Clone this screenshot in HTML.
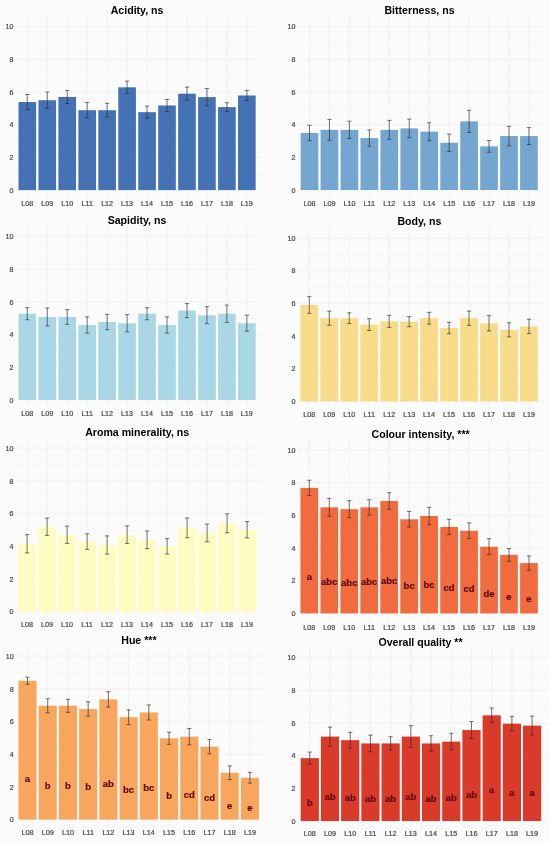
<!DOCTYPE html>
<html><head><meta charset="utf-8"><style>
html,body{margin:0;padding:0;background:#fbfbfb;width:550px;height:842px;overflow:hidden;font-family:"Liberation Sans",sans-serif}
</style></head><body>
<svg width="550" height="842" viewBox="0 0 550 842" style="position:absolute;left:0;top:0;filter:blur(0.35px)">
<rect x="0" y="0" width="550" height="842" fill="#fbfbfb"/>
<line x1="15.52" y1="173.76" x2="261.34" y2="173.76" stroke="#f5f5f5" stroke-width="0.7"/>
<line x1="15.52" y1="141.08" x2="261.34" y2="141.08" stroke="#f5f5f5" stroke-width="0.7"/>
<line x1="15.52" y1="108.4" x2="261.34" y2="108.4" stroke="#f5f5f5" stroke-width="0.7"/>
<line x1="15.52" y1="75.72" x2="261.34" y2="75.72" stroke="#f5f5f5" stroke-width="0.7"/>
<line x1="15.52" y1="43.04" x2="261.34" y2="43.04" stroke="#f5f5f5" stroke-width="0.7"/>
<line x1="15.52" y1="190.1" x2="261.34" y2="190.1" stroke="#efefef" stroke-width="0.8"/>
<line x1="15.52" y1="157.42" x2="261.34" y2="157.42" stroke="#efefef" stroke-width="0.8"/>
<line x1="15.52" y1="124.74" x2="261.34" y2="124.74" stroke="#efefef" stroke-width="0.8"/>
<line x1="15.52" y1="92.06" x2="261.34" y2="92.06" stroke="#efefef" stroke-width="0.8"/>
<line x1="15.52" y1="59.38" x2="261.34" y2="59.38" stroke="#efefef" stroke-width="0.8"/>
<line x1="15.52" y1="26.7" x2="261.34" y2="26.7" stroke="#efefef" stroke-width="0.8"/>
<line x1="27.3" y1="16.9" x2="27.3" y2="197.45" stroke="#efefef" stroke-width="0.8"/>
<line x1="47.26" y1="16.9" x2="47.26" y2="197.45" stroke="#efefef" stroke-width="0.8"/>
<line x1="67.22" y1="16.9" x2="67.22" y2="197.45" stroke="#efefef" stroke-width="0.8"/>
<line x1="87.18" y1="16.9" x2="87.18" y2="197.45" stroke="#efefef" stroke-width="0.8"/>
<line x1="107.14" y1="16.9" x2="107.14" y2="197.45" stroke="#efefef" stroke-width="0.8"/>
<line x1="127.1" y1="16.9" x2="127.1" y2="197.45" stroke="#efefef" stroke-width="0.8"/>
<line x1="147.06" y1="16.9" x2="147.06" y2="197.45" stroke="#efefef" stroke-width="0.8"/>
<line x1="167.02" y1="16.9" x2="167.02" y2="197.45" stroke="#efefef" stroke-width="0.8"/>
<line x1="186.98" y1="16.9" x2="186.98" y2="197.45" stroke="#efefef" stroke-width="0.8"/>
<line x1="206.94" y1="16.9" x2="206.94" y2="197.45" stroke="#efefef" stroke-width="0.8"/>
<line x1="226.9" y1="16.9" x2="226.9" y2="197.45" stroke="#efefef" stroke-width="0.8"/>
<line x1="246.86" y1="16.9" x2="246.86" y2="197.45" stroke="#efefef" stroke-width="0.8"/>
<rect x="18.5" y="102.03" width="17.6" height="88.07" fill="#4571b5"/>
<rect x="38.46" y="100.23" width="17.6" height="89.87" fill="#4571b5"/>
<rect x="58.42" y="96.96" width="17.6" height="93.14" fill="#4571b5"/>
<rect x="78.38" y="110.2" width="17.6" height="79.9" fill="#4571b5"/>
<rect x="98.34" y="110.2" width="17.6" height="79.9" fill="#4571b5"/>
<rect x="118.3" y="87.32" width="17.6" height="102.78" fill="#4571b5"/>
<rect x="138.26" y="112.16" width="17.6" height="77.94" fill="#4571b5"/>
<rect x="158.22" y="105.46" width="17.6" height="84.64" fill="#4571b5"/>
<rect x="178.18" y="93.69" width="17.6" height="96.41" fill="#4571b5"/>
<rect x="198.14" y="97.13" width="17.6" height="92.97" fill="#4571b5"/>
<rect x="218.1" y="107.09" width="17.6" height="83.01" fill="#4571b5"/>
<rect x="238.06" y="95.49" width="17.6" height="94.61" fill="#4571b5"/>
<path d="M27.3 94.51V109.54M25.2 94.51H29.4M25.2 109.54H29.4" stroke="#2c2c2c" stroke-width="0.66" fill="none"/>
<path d="M47.26 92.06V108.4M45.16 92.06H49.36M45.16 108.4H49.36" stroke="#2c2c2c" stroke-width="0.66" fill="none"/>
<path d="M67.22 90.43V103.5M65.12 90.43H69.32M65.12 103.5H69.32" stroke="#2c2c2c" stroke-width="0.66" fill="none"/>
<path d="M87.18 102.52V117.88M85.08 102.52H89.28M85.08 117.88H89.28" stroke="#2c2c2c" stroke-width="0.66" fill="none"/>
<path d="M107.14 103.33V117.06M105.04 103.33H109.24M105.04 117.06H109.24" stroke="#2c2c2c" stroke-width="0.66" fill="none"/>
<path d="M127.1 81.11V93.53M125 81.11H129.2M125 93.53H129.2" stroke="#2c2c2c" stroke-width="0.66" fill="none"/>
<path d="M147.06 106.11V118.2M144.96 106.11H149.16M144.96 118.2H149.16" stroke="#2c2c2c" stroke-width="0.66" fill="none"/>
<path d="M167.02 99.41V111.5M164.92 99.41H169.12M164.92 111.5H169.12" stroke="#2c2c2c" stroke-width="0.66" fill="none"/>
<path d="M186.98 87.16V100.23M184.88 87.16H189.08M184.88 100.23H189.08" stroke="#2c2c2c" stroke-width="0.66" fill="none"/>
<path d="M206.94 88.47V105.79M204.84 88.47H209.04M204.84 105.79H209.04" stroke="#2c2c2c" stroke-width="0.66" fill="none"/>
<path d="M226.9 102.68V111.5M224.8 102.68H229M224.8 111.5H229" stroke="#2c2c2c" stroke-width="0.66" fill="none"/>
<path d="M246.86 90.43V100.56M244.76 90.43H248.96M244.76 100.56H248.96" stroke="#2c2c2c" stroke-width="0.66" fill="none"/>
<text x="13.4" y="192.8" font-family="Liberation Sans" font-size="7.1" fill="#4a4a4a" stroke="#4a4a4a" stroke-width="0.22" text-anchor="end">0</text>
<text x="13.4" y="160.12" font-family="Liberation Sans" font-size="7.1" fill="#4a4a4a" stroke="#4a4a4a" stroke-width="0.22" text-anchor="end">2</text>
<text x="13.4" y="127.44" font-family="Liberation Sans" font-size="7.1" fill="#4a4a4a" stroke="#4a4a4a" stroke-width="0.22" text-anchor="end">4</text>
<text x="13.4" y="94.76" font-family="Liberation Sans" font-size="7.1" fill="#4a4a4a" stroke="#4a4a4a" stroke-width="0.22" text-anchor="end">6</text>
<text x="13.4" y="62.08" font-family="Liberation Sans" font-size="7.1" fill="#4a4a4a" stroke="#4a4a4a" stroke-width="0.22" text-anchor="end">8</text>
<text x="13.4" y="29.4" font-family="Liberation Sans" font-size="7.1" fill="#4a4a4a" stroke="#4a4a4a" stroke-width="0.22" text-anchor="end">10</text>
<text x="27.3" y="206.2" font-family="Liberation Sans" font-size="7.2" fill="#4a4a4a" stroke="#4a4a4a" stroke-width="0.22" text-anchor="middle">L08</text>
<text x="47.26" y="206.2" font-family="Liberation Sans" font-size="7.2" fill="#4a4a4a" stroke="#4a4a4a" stroke-width="0.22" text-anchor="middle">L09</text>
<text x="67.22" y="206.2" font-family="Liberation Sans" font-size="7.2" fill="#4a4a4a" stroke="#4a4a4a" stroke-width="0.22" text-anchor="middle">L10</text>
<text x="87.18" y="206.2" font-family="Liberation Sans" font-size="7.2" fill="#4a4a4a" stroke="#4a4a4a" stroke-width="0.22" text-anchor="middle">L11</text>
<text x="107.14" y="206.2" font-family="Liberation Sans" font-size="7.2" fill="#4a4a4a" stroke="#4a4a4a" stroke-width="0.22" text-anchor="middle">L12</text>
<text x="127.1" y="206.2" font-family="Liberation Sans" font-size="7.2" fill="#4a4a4a" stroke="#4a4a4a" stroke-width="0.22" text-anchor="middle">L13</text>
<text x="147.06" y="206.2" font-family="Liberation Sans" font-size="7.2" fill="#4a4a4a" stroke="#4a4a4a" stroke-width="0.22" text-anchor="middle">L14</text>
<text x="167.02" y="206.2" font-family="Liberation Sans" font-size="7.2" fill="#4a4a4a" stroke="#4a4a4a" stroke-width="0.22" text-anchor="middle">L15</text>
<text x="186.98" y="206.2" font-family="Liberation Sans" font-size="7.2" fill="#4a4a4a" stroke="#4a4a4a" stroke-width="0.22" text-anchor="middle">L16</text>
<text x="206.94" y="206.2" font-family="Liberation Sans" font-size="7.2" fill="#4a4a4a" stroke="#4a4a4a" stroke-width="0.22" text-anchor="middle">L17</text>
<text x="226.9" y="206.2" font-family="Liberation Sans" font-size="7.2" fill="#4a4a4a" stroke="#4a4a4a" stroke-width="0.22" text-anchor="middle">L18</text>
<text x="246.86" y="206.2" font-family="Liberation Sans" font-size="7.2" fill="#4a4a4a" stroke="#4a4a4a" stroke-width="0.22" text-anchor="middle">L19</text>
<text x="137.1" y="14" font-family="Liberation Sans" font-weight="bold" font-size="10.6" fill="#000" text-anchor="middle">Acidity, ns</text>
<line x1="297.72" y1="173.66" x2="543.43" y2="173.66" stroke="#f5f5f5" stroke-width="0.7"/>
<line x1="297.72" y1="140.98" x2="543.43" y2="140.98" stroke="#f5f5f5" stroke-width="0.7"/>
<line x1="297.72" y1="108.3" x2="543.43" y2="108.3" stroke="#f5f5f5" stroke-width="0.7"/>
<line x1="297.72" y1="75.62" x2="543.43" y2="75.62" stroke="#f5f5f5" stroke-width="0.7"/>
<line x1="297.72" y1="42.94" x2="543.43" y2="42.94" stroke="#f5f5f5" stroke-width="0.7"/>
<line x1="297.72" y1="190" x2="543.43" y2="190" stroke="#efefef" stroke-width="0.8"/>
<line x1="297.72" y1="157.32" x2="543.43" y2="157.32" stroke="#efefef" stroke-width="0.8"/>
<line x1="297.72" y1="124.64" x2="543.43" y2="124.64" stroke="#efefef" stroke-width="0.8"/>
<line x1="297.72" y1="91.96" x2="543.43" y2="91.96" stroke="#efefef" stroke-width="0.8"/>
<line x1="297.72" y1="59.28" x2="543.43" y2="59.28" stroke="#efefef" stroke-width="0.8"/>
<line x1="297.72" y1="26.6" x2="543.43" y2="26.6" stroke="#efefef" stroke-width="0.8"/>
<line x1="309.5" y1="16.8" x2="309.5" y2="197.35" stroke="#efefef" stroke-width="0.8"/>
<line x1="329.45" y1="16.8" x2="329.45" y2="197.35" stroke="#efefef" stroke-width="0.8"/>
<line x1="349.4" y1="16.8" x2="349.4" y2="197.35" stroke="#efefef" stroke-width="0.8"/>
<line x1="369.35" y1="16.8" x2="369.35" y2="197.35" stroke="#efefef" stroke-width="0.8"/>
<line x1="389.3" y1="16.8" x2="389.3" y2="197.35" stroke="#efefef" stroke-width="0.8"/>
<line x1="409.25" y1="16.8" x2="409.25" y2="197.35" stroke="#efefef" stroke-width="0.8"/>
<line x1="429.2" y1="16.8" x2="429.2" y2="197.35" stroke="#efefef" stroke-width="0.8"/>
<line x1="449.15" y1="16.8" x2="449.15" y2="197.35" stroke="#efefef" stroke-width="0.8"/>
<line x1="469.1" y1="16.8" x2="469.1" y2="197.35" stroke="#efefef" stroke-width="0.8"/>
<line x1="489.05" y1="16.8" x2="489.05" y2="197.35" stroke="#efefef" stroke-width="0.8"/>
<line x1="509" y1="16.8" x2="509" y2="197.35" stroke="#efefef" stroke-width="0.8"/>
<line x1="528.95" y1="16.8" x2="528.95" y2="197.35" stroke="#efefef" stroke-width="0.8"/>
<rect x="300.65" y="132.97" width="17.7" height="57.03" fill="#74a6d0"/>
<rect x="320.6" y="129.87" width="17.7" height="60.13" fill="#74a6d0"/>
<rect x="340.55" y="129.87" width="17.7" height="60.13" fill="#74a6d0"/>
<rect x="360.5" y="138.04" width="17.7" height="51.96" fill="#74a6d0"/>
<rect x="380.45" y="129.87" width="17.7" height="60.13" fill="#74a6d0"/>
<rect x="400.4" y="128.4" width="17.7" height="61.6" fill="#74a6d0"/>
<rect x="420.35" y="131.67" width="17.7" height="58.33" fill="#74a6d0"/>
<rect x="440.3" y="142.78" width="17.7" height="47.22" fill="#74a6d0"/>
<rect x="460.25" y="121.37" width="17.7" height="68.63" fill="#74a6d0"/>
<rect x="480.2" y="146.37" width="17.7" height="43.63" fill="#74a6d0"/>
<rect x="500.15" y="136.08" width="17.7" height="53.92" fill="#74a6d0"/>
<rect x="520.1" y="136.08" width="17.7" height="53.92" fill="#74a6d0"/>
<path d="M309.5 125.29V140.65M307.4 125.29H311.6M307.4 140.65H311.6" stroke="#2c2c2c" stroke-width="0.66" fill="none"/>
<path d="M329.45 119.41V140.33M327.35 119.41H331.55M327.35 140.33H331.55" stroke="#2c2c2c" stroke-width="0.66" fill="none"/>
<path d="M349.4 121.21V138.53M347.3 121.21H351.5M347.3 138.53H351.5" stroke="#2c2c2c" stroke-width="0.66" fill="none"/>
<path d="M369.35 129.87V146.21M367.25 129.87H371.45M367.25 146.21H371.45" stroke="#2c2c2c" stroke-width="0.66" fill="none"/>
<path d="M389.3 120.39V139.35M387.2 120.39H391.4M387.2 139.35H391.4" stroke="#2c2c2c" stroke-width="0.66" fill="none"/>
<path d="M409.25 119.08V137.71M407.15 119.08H411.35M407.15 137.71H411.35" stroke="#2c2c2c" stroke-width="0.66" fill="none"/>
<path d="M429.2 122.68V140.65M427.1 122.68H431.3M427.1 140.65H431.3" stroke="#2c2c2c" stroke-width="0.66" fill="none"/>
<path d="M449.15 134.12V151.44M447.05 134.12H451.25M447.05 151.44H451.25" stroke="#2c2c2c" stroke-width="0.66" fill="none"/>
<path d="M469.1 110.26V132.48M467 110.26H471.2M467 132.48H471.2" stroke="#2c2c2c" stroke-width="0.66" fill="none"/>
<path d="M489.05 140.49V152.25M486.95 140.49H491.15M486.95 152.25H491.15" stroke="#2c2c2c" stroke-width="0.66" fill="none"/>
<path d="M509 126.27V145.88M506.9 126.27H511.1M506.9 145.88H511.1" stroke="#2c2c2c" stroke-width="0.66" fill="none"/>
<path d="M528.95 127.58V144.57M526.85 127.58H531.05M526.85 144.57H531.05" stroke="#2c2c2c" stroke-width="0.66" fill="none"/>
<text x="295.5" y="192.7" font-family="Liberation Sans" font-size="7.1" fill="#4a4a4a" stroke="#4a4a4a" stroke-width="0.22" text-anchor="end">0</text>
<text x="295.5" y="160.02" font-family="Liberation Sans" font-size="7.1" fill="#4a4a4a" stroke="#4a4a4a" stroke-width="0.22" text-anchor="end">2</text>
<text x="295.5" y="127.34" font-family="Liberation Sans" font-size="7.1" fill="#4a4a4a" stroke="#4a4a4a" stroke-width="0.22" text-anchor="end">4</text>
<text x="295.5" y="94.66" font-family="Liberation Sans" font-size="7.1" fill="#4a4a4a" stroke="#4a4a4a" stroke-width="0.22" text-anchor="end">6</text>
<text x="295.5" y="61.98" font-family="Liberation Sans" font-size="7.1" fill="#4a4a4a" stroke="#4a4a4a" stroke-width="0.22" text-anchor="end">8</text>
<text x="295.5" y="29.3" font-family="Liberation Sans" font-size="7.1" fill="#4a4a4a" stroke="#4a4a4a" stroke-width="0.22" text-anchor="end">10</text>
<text x="309.5" y="206.2" font-family="Liberation Sans" font-size="7.2" fill="#4a4a4a" stroke="#4a4a4a" stroke-width="0.22" text-anchor="middle">L08</text>
<text x="329.45" y="206.2" font-family="Liberation Sans" font-size="7.2" fill="#4a4a4a" stroke="#4a4a4a" stroke-width="0.22" text-anchor="middle">L09</text>
<text x="349.4" y="206.2" font-family="Liberation Sans" font-size="7.2" fill="#4a4a4a" stroke="#4a4a4a" stroke-width="0.22" text-anchor="middle">L10</text>
<text x="369.35" y="206.2" font-family="Liberation Sans" font-size="7.2" fill="#4a4a4a" stroke="#4a4a4a" stroke-width="0.22" text-anchor="middle">L11</text>
<text x="389.3" y="206.2" font-family="Liberation Sans" font-size="7.2" fill="#4a4a4a" stroke="#4a4a4a" stroke-width="0.22" text-anchor="middle">L12</text>
<text x="409.25" y="206.2" font-family="Liberation Sans" font-size="7.2" fill="#4a4a4a" stroke="#4a4a4a" stroke-width="0.22" text-anchor="middle">L13</text>
<text x="429.2" y="206.2" font-family="Liberation Sans" font-size="7.2" fill="#4a4a4a" stroke="#4a4a4a" stroke-width="0.22" text-anchor="middle">L14</text>
<text x="449.15" y="206.2" font-family="Liberation Sans" font-size="7.2" fill="#4a4a4a" stroke="#4a4a4a" stroke-width="0.22" text-anchor="middle">L15</text>
<text x="469.1" y="206.2" font-family="Liberation Sans" font-size="7.2" fill="#4a4a4a" stroke="#4a4a4a" stroke-width="0.22" text-anchor="middle">L16</text>
<text x="489.05" y="206.2" font-family="Liberation Sans" font-size="7.2" fill="#4a4a4a" stroke="#4a4a4a" stroke-width="0.22" text-anchor="middle">L17</text>
<text x="509" y="206.2" font-family="Liberation Sans" font-size="7.2" fill="#4a4a4a" stroke="#4a4a4a" stroke-width="0.22" text-anchor="middle">L18</text>
<text x="528.95" y="206.2" font-family="Liberation Sans" font-size="7.2" fill="#4a4a4a" stroke="#4a4a4a" stroke-width="0.22" text-anchor="middle">L19</text>
<text x="419.5" y="14" font-family="Liberation Sans" font-weight="bold" font-size="10.6" fill="#000" text-anchor="middle">Bitterness, ns</text>
<line x1="15.52" y1="383.66" x2="261.34" y2="383.66" stroke="#f5f5f5" stroke-width="0.7"/>
<line x1="15.52" y1="350.98" x2="261.34" y2="350.98" stroke="#f5f5f5" stroke-width="0.7"/>
<line x1="15.52" y1="318.3" x2="261.34" y2="318.3" stroke="#f5f5f5" stroke-width="0.7"/>
<line x1="15.52" y1="285.62" x2="261.34" y2="285.62" stroke="#f5f5f5" stroke-width="0.7"/>
<line x1="15.52" y1="252.94" x2="261.34" y2="252.94" stroke="#f5f5f5" stroke-width="0.7"/>
<line x1="15.52" y1="400" x2="261.34" y2="400" stroke="#efefef" stroke-width="0.8"/>
<line x1="15.52" y1="367.32" x2="261.34" y2="367.32" stroke="#efefef" stroke-width="0.8"/>
<line x1="15.52" y1="334.64" x2="261.34" y2="334.64" stroke="#efefef" stroke-width="0.8"/>
<line x1="15.52" y1="301.96" x2="261.34" y2="301.96" stroke="#efefef" stroke-width="0.8"/>
<line x1="15.52" y1="269.28" x2="261.34" y2="269.28" stroke="#efefef" stroke-width="0.8"/>
<line x1="15.52" y1="236.6" x2="261.34" y2="236.6" stroke="#efefef" stroke-width="0.8"/>
<line x1="27.3" y1="226.8" x2="27.3" y2="407.35" stroke="#efefef" stroke-width="0.8"/>
<line x1="47.26" y1="226.8" x2="47.26" y2="407.35" stroke="#efefef" stroke-width="0.8"/>
<line x1="67.22" y1="226.8" x2="67.22" y2="407.35" stroke="#efefef" stroke-width="0.8"/>
<line x1="87.18" y1="226.8" x2="87.18" y2="407.35" stroke="#efefef" stroke-width="0.8"/>
<line x1="107.14" y1="226.8" x2="107.14" y2="407.35" stroke="#efefef" stroke-width="0.8"/>
<line x1="127.1" y1="226.8" x2="127.1" y2="407.35" stroke="#efefef" stroke-width="0.8"/>
<line x1="147.06" y1="226.8" x2="147.06" y2="407.35" stroke="#efefef" stroke-width="0.8"/>
<line x1="167.02" y1="226.8" x2="167.02" y2="407.35" stroke="#efefef" stroke-width="0.8"/>
<line x1="186.98" y1="226.8" x2="186.98" y2="407.35" stroke="#efefef" stroke-width="0.8"/>
<line x1="206.94" y1="226.8" x2="206.94" y2="407.35" stroke="#efefef" stroke-width="0.8"/>
<line x1="226.9" y1="226.8" x2="226.9" y2="407.35" stroke="#efefef" stroke-width="0.8"/>
<line x1="246.86" y1="226.8" x2="246.86" y2="407.35" stroke="#efefef" stroke-width="0.8"/>
<rect x="18.5" y="313.72" width="17.6" height="86.28" fill="#a9d7e5"/>
<rect x="38.46" y="316.99" width="17.6" height="83.01" fill="#a9d7e5"/>
<rect x="58.42" y="316.99" width="17.6" height="83.01" fill="#a9d7e5"/>
<rect x="78.38" y="325" width="17.6" height="75" fill="#a9d7e5"/>
<rect x="98.34" y="322.06" width="17.6" height="77.94" fill="#a9d7e5"/>
<rect x="118.3" y="323.2" width="17.6" height="76.8" fill="#a9d7e5"/>
<rect x="138.26" y="313.72" width="17.6" height="86.28" fill="#a9d7e5"/>
<rect x="158.22" y="325" width="17.6" height="75" fill="#a9d7e5"/>
<rect x="178.18" y="310.62" width="17.6" height="89.38" fill="#a9d7e5"/>
<rect x="198.14" y="315.2" width="17.6" height="84.8" fill="#a9d7e5"/>
<rect x="218.1" y="313.72" width="17.6" height="86.28" fill="#a9d7e5"/>
<rect x="238.06" y="323.2" width="17.6" height="76.8" fill="#a9d7e5"/>
<path d="M27.3 307.68V319.77M25.2 307.68H29.4M25.2 319.77H29.4" stroke="#2c2c2c" stroke-width="0.66" fill="none"/>
<path d="M47.26 308.01V325.98M45.16 308.01H49.36M45.16 325.98H49.36" stroke="#2c2c2c" stroke-width="0.66" fill="none"/>
<path d="M67.22 309.64V324.35M65.12 309.64H69.32M65.12 324.35H69.32" stroke="#2c2c2c" stroke-width="0.66" fill="none"/>
<path d="M87.18 316.83V333.17M85.08 316.83H89.28M85.08 333.17H89.28" stroke="#2c2c2c" stroke-width="0.66" fill="none"/>
<path d="M107.14 314.38V329.74M105.04 314.38H109.24M105.04 329.74H109.24" stroke="#2c2c2c" stroke-width="0.66" fill="none"/>
<path d="M127.1 314.54V331.86M125 314.54H129.2M125 331.86H129.2" stroke="#2c2c2c" stroke-width="0.66" fill="none"/>
<path d="M147.06 307.68V319.77M144.96 307.68H149.16M144.96 319.77H149.16" stroke="#2c2c2c" stroke-width="0.66" fill="none"/>
<path d="M167.02 316.83V333.17M164.92 316.83H169.12M164.92 333.17H169.12" stroke="#2c2c2c" stroke-width="0.66" fill="none"/>
<path d="M186.98 303.59V317.65M184.88 303.59H189.08M184.88 317.65H189.08" stroke="#2c2c2c" stroke-width="0.66" fill="none"/>
<path d="M206.94 306.7V323.69M204.84 306.7H209.04M204.84 323.69H209.04" stroke="#2c2c2c" stroke-width="0.66" fill="none"/>
<path d="M226.9 305.06V322.38M224.8 305.06H229M224.8 322.38H229" stroke="#2c2c2c" stroke-width="0.66" fill="none"/>
<path d="M246.86 315.2V331.21M244.76 315.2H248.96M244.76 331.21H248.96" stroke="#2c2c2c" stroke-width="0.66" fill="none"/>
<text x="13.4" y="402.7" font-family="Liberation Sans" font-size="7.1" fill="#4a4a4a" stroke="#4a4a4a" stroke-width="0.22" text-anchor="end">0</text>
<text x="13.4" y="370.02" font-family="Liberation Sans" font-size="7.1" fill="#4a4a4a" stroke="#4a4a4a" stroke-width="0.22" text-anchor="end">2</text>
<text x="13.4" y="337.34" font-family="Liberation Sans" font-size="7.1" fill="#4a4a4a" stroke="#4a4a4a" stroke-width="0.22" text-anchor="end">4</text>
<text x="13.4" y="304.66" font-family="Liberation Sans" font-size="7.1" fill="#4a4a4a" stroke="#4a4a4a" stroke-width="0.22" text-anchor="end">6</text>
<text x="13.4" y="271.98" font-family="Liberation Sans" font-size="7.1" fill="#4a4a4a" stroke="#4a4a4a" stroke-width="0.22" text-anchor="end">8</text>
<text x="13.4" y="239.3" font-family="Liberation Sans" font-size="7.1" fill="#4a4a4a" stroke="#4a4a4a" stroke-width="0.22" text-anchor="end">10</text>
<text x="27.3" y="416.2" font-family="Liberation Sans" font-size="7.2" fill="#4a4a4a" stroke="#4a4a4a" stroke-width="0.22" text-anchor="middle">L08</text>
<text x="47.26" y="416.2" font-family="Liberation Sans" font-size="7.2" fill="#4a4a4a" stroke="#4a4a4a" stroke-width="0.22" text-anchor="middle">L09</text>
<text x="67.22" y="416.2" font-family="Liberation Sans" font-size="7.2" fill="#4a4a4a" stroke="#4a4a4a" stroke-width="0.22" text-anchor="middle">L10</text>
<text x="87.18" y="416.2" font-family="Liberation Sans" font-size="7.2" fill="#4a4a4a" stroke="#4a4a4a" stroke-width="0.22" text-anchor="middle">L11</text>
<text x="107.14" y="416.2" font-family="Liberation Sans" font-size="7.2" fill="#4a4a4a" stroke="#4a4a4a" stroke-width="0.22" text-anchor="middle">L12</text>
<text x="127.1" y="416.2" font-family="Liberation Sans" font-size="7.2" fill="#4a4a4a" stroke="#4a4a4a" stroke-width="0.22" text-anchor="middle">L13</text>
<text x="147.06" y="416.2" font-family="Liberation Sans" font-size="7.2" fill="#4a4a4a" stroke="#4a4a4a" stroke-width="0.22" text-anchor="middle">L14</text>
<text x="167.02" y="416.2" font-family="Liberation Sans" font-size="7.2" fill="#4a4a4a" stroke="#4a4a4a" stroke-width="0.22" text-anchor="middle">L15</text>
<text x="186.98" y="416.2" font-family="Liberation Sans" font-size="7.2" fill="#4a4a4a" stroke="#4a4a4a" stroke-width="0.22" text-anchor="middle">L16</text>
<text x="206.94" y="416.2" font-family="Liberation Sans" font-size="7.2" fill="#4a4a4a" stroke="#4a4a4a" stroke-width="0.22" text-anchor="middle">L17</text>
<text x="226.9" y="416.2" font-family="Liberation Sans" font-size="7.2" fill="#4a4a4a" stroke="#4a4a4a" stroke-width="0.22" text-anchor="middle">L18</text>
<text x="246.86" y="416.2" font-family="Liberation Sans" font-size="7.2" fill="#4a4a4a" stroke="#4a4a4a" stroke-width="0.22" text-anchor="middle">L19</text>
<text x="137" y="223.8" font-family="Liberation Sans" font-weight="bold" font-size="10.6" fill="#000" text-anchor="middle">Sapidity, ns</text>
<line x1="297.51" y1="385.06" x2="543.46" y2="385.06" stroke="#f5f5f5" stroke-width="0.7"/>
<line x1="297.51" y1="352.38" x2="543.46" y2="352.38" stroke="#f5f5f5" stroke-width="0.7"/>
<line x1="297.51" y1="319.7" x2="543.46" y2="319.7" stroke="#f5f5f5" stroke-width="0.7"/>
<line x1="297.51" y1="287.02" x2="543.46" y2="287.02" stroke="#f5f5f5" stroke-width="0.7"/>
<line x1="297.51" y1="254.34" x2="543.46" y2="254.34" stroke="#f5f5f5" stroke-width="0.7"/>
<line x1="297.51" y1="401.4" x2="543.46" y2="401.4" stroke="#efefef" stroke-width="0.8"/>
<line x1="297.51" y1="368.72" x2="543.46" y2="368.72" stroke="#efefef" stroke-width="0.8"/>
<line x1="297.51" y1="336.04" x2="543.46" y2="336.04" stroke="#efefef" stroke-width="0.8"/>
<line x1="297.51" y1="303.36" x2="543.46" y2="303.36" stroke="#efefef" stroke-width="0.8"/>
<line x1="297.51" y1="270.68" x2="543.46" y2="270.68" stroke="#efefef" stroke-width="0.8"/>
<line x1="297.51" y1="238" x2="543.46" y2="238" stroke="#efefef" stroke-width="0.8"/>
<line x1="309.3" y1="228.2" x2="309.3" y2="408.75" stroke="#efefef" stroke-width="0.8"/>
<line x1="329.27" y1="228.2" x2="329.27" y2="408.75" stroke="#efefef" stroke-width="0.8"/>
<line x1="349.24" y1="228.2" x2="349.24" y2="408.75" stroke="#efefef" stroke-width="0.8"/>
<line x1="369.21" y1="228.2" x2="369.21" y2="408.75" stroke="#efefef" stroke-width="0.8"/>
<line x1="389.18" y1="228.2" x2="389.18" y2="408.75" stroke="#efefef" stroke-width="0.8"/>
<line x1="409.15" y1="228.2" x2="409.15" y2="408.75" stroke="#efefef" stroke-width="0.8"/>
<line x1="429.12" y1="228.2" x2="429.12" y2="408.75" stroke="#efefef" stroke-width="0.8"/>
<line x1="449.09" y1="228.2" x2="449.09" y2="408.75" stroke="#efefef" stroke-width="0.8"/>
<line x1="469.06" y1="228.2" x2="469.06" y2="408.75" stroke="#efefef" stroke-width="0.8"/>
<line x1="489.03" y1="228.2" x2="489.03" y2="408.75" stroke="#efefef" stroke-width="0.8"/>
<line x1="509" y1="228.2" x2="509" y2="408.75" stroke="#efefef" stroke-width="0.8"/>
<line x1="528.97" y1="228.2" x2="528.97" y2="408.75" stroke="#efefef" stroke-width="0.8"/>
<rect x="300.45" y="304.99" width="17.7" height="96.41" fill="#f9dc89"/>
<rect x="320.42" y="318.23" width="17.7" height="83.17" fill="#f9dc89"/>
<rect x="340.39" y="318.23" width="17.7" height="83.17" fill="#f9dc89"/>
<rect x="360.36" y="324.6" width="17.7" height="76.8" fill="#f9dc89"/>
<rect x="380.33" y="321.33" width="17.7" height="80.07" fill="#f9dc89"/>
<rect x="400.3" y="321.66" width="17.7" height="79.74" fill="#f9dc89"/>
<rect x="420.27" y="318.23" width="17.7" height="83.17" fill="#f9dc89"/>
<rect x="440.24" y="328.03" width="17.7" height="73.37" fill="#f9dc89"/>
<rect x="460.21" y="318.23" width="17.7" height="83.17" fill="#f9dc89"/>
<rect x="480.18" y="323.29" width="17.7" height="78.11" fill="#f9dc89"/>
<rect x="500.15" y="329.83" width="17.7" height="71.57" fill="#f9dc89"/>
<rect x="520.12" y="326.4" width="17.7" height="75" fill="#f9dc89"/>
<path d="M309.3 296.66V313.33M307.2 296.66H311.4M307.2 313.33H311.4" stroke="#2c2c2c" stroke-width="0.66" fill="none"/>
<path d="M329.27 311.2V325.26M327.17 311.2H331.37M327.17 325.26H331.37" stroke="#2c2c2c" stroke-width="0.66" fill="none"/>
<path d="M349.24 312.84V323.62M347.14 312.84H351.34M347.14 323.62H351.34" stroke="#2c2c2c" stroke-width="0.66" fill="none"/>
<path d="M369.21 318.72V330.48M367.11 318.72H371.31M367.11 330.48H371.31" stroke="#2c2c2c" stroke-width="0.66" fill="none"/>
<path d="M389.18 315.29V327.38M387.08 315.29H391.28M387.08 327.38H391.28" stroke="#2c2c2c" stroke-width="0.66" fill="none"/>
<path d="M409.15 316.6V326.73M407.05 316.6H411.25M407.05 326.73H411.25" stroke="#2c2c2c" stroke-width="0.66" fill="none"/>
<path d="M429.12 312.35V324.11M427.02 312.35H431.22M427.02 324.11H431.22" stroke="#2c2c2c" stroke-width="0.66" fill="none"/>
<path d="M449.09 322.31V333.75M446.99 322.31H451.19M446.99 333.75H451.19" stroke="#2c2c2c" stroke-width="0.66" fill="none"/>
<path d="M469.06 311.04V325.42M466.96 311.04H471.16M466.96 325.42H471.16" stroke="#2c2c2c" stroke-width="0.66" fill="none"/>
<path d="M489.03 315.62V330.97M486.93 315.62H491.13M486.93 330.97H491.13" stroke="#2c2c2c" stroke-width="0.66" fill="none"/>
<path d="M509 322.8V336.86M506.9 322.8H511.1M506.9 336.86H511.1" stroke="#2c2c2c" stroke-width="0.66" fill="none"/>
<path d="M528.97 319.21V333.59M526.87 319.21H531.07M526.87 333.59H531.07" stroke="#2c2c2c" stroke-width="0.66" fill="none"/>
<text x="295.5" y="404.1" font-family="Liberation Sans" font-size="7.1" fill="#4a4a4a" stroke="#4a4a4a" stroke-width="0.22" text-anchor="end">0</text>
<text x="295.5" y="371.42" font-family="Liberation Sans" font-size="7.1" fill="#4a4a4a" stroke="#4a4a4a" stroke-width="0.22" text-anchor="end">2</text>
<text x="295.5" y="338.74" font-family="Liberation Sans" font-size="7.1" fill="#4a4a4a" stroke="#4a4a4a" stroke-width="0.22" text-anchor="end">4</text>
<text x="295.5" y="306.06" font-family="Liberation Sans" font-size="7.1" fill="#4a4a4a" stroke="#4a4a4a" stroke-width="0.22" text-anchor="end">6</text>
<text x="295.5" y="273.38" font-family="Liberation Sans" font-size="7.1" fill="#4a4a4a" stroke="#4a4a4a" stroke-width="0.22" text-anchor="end">8</text>
<text x="295.5" y="240.7" font-family="Liberation Sans" font-size="7.1" fill="#4a4a4a" stroke="#4a4a4a" stroke-width="0.22" text-anchor="end">10</text>
<text x="309.3" y="417.3" font-family="Liberation Sans" font-size="7.2" fill="#4a4a4a" stroke="#4a4a4a" stroke-width="0.22" text-anchor="middle">L08</text>
<text x="329.27" y="417.3" font-family="Liberation Sans" font-size="7.2" fill="#4a4a4a" stroke="#4a4a4a" stroke-width="0.22" text-anchor="middle">L09</text>
<text x="349.24" y="417.3" font-family="Liberation Sans" font-size="7.2" fill="#4a4a4a" stroke="#4a4a4a" stroke-width="0.22" text-anchor="middle">L10</text>
<text x="369.21" y="417.3" font-family="Liberation Sans" font-size="7.2" fill="#4a4a4a" stroke="#4a4a4a" stroke-width="0.22" text-anchor="middle">L11</text>
<text x="389.18" y="417.3" font-family="Liberation Sans" font-size="7.2" fill="#4a4a4a" stroke="#4a4a4a" stroke-width="0.22" text-anchor="middle">L12</text>
<text x="409.15" y="417.3" font-family="Liberation Sans" font-size="7.2" fill="#4a4a4a" stroke="#4a4a4a" stroke-width="0.22" text-anchor="middle">L13</text>
<text x="429.12" y="417.3" font-family="Liberation Sans" font-size="7.2" fill="#4a4a4a" stroke="#4a4a4a" stroke-width="0.22" text-anchor="middle">L14</text>
<text x="449.09" y="417.3" font-family="Liberation Sans" font-size="7.2" fill="#4a4a4a" stroke="#4a4a4a" stroke-width="0.22" text-anchor="middle">L15</text>
<text x="469.06" y="417.3" font-family="Liberation Sans" font-size="7.2" fill="#4a4a4a" stroke="#4a4a4a" stroke-width="0.22" text-anchor="middle">L16</text>
<text x="489.03" y="417.3" font-family="Liberation Sans" font-size="7.2" fill="#4a4a4a" stroke="#4a4a4a" stroke-width="0.22" text-anchor="middle">L17</text>
<text x="509" y="417.3" font-family="Liberation Sans" font-size="7.2" fill="#4a4a4a" stroke="#4a4a4a" stroke-width="0.22" text-anchor="middle">L18</text>
<text x="528.97" y="417.3" font-family="Liberation Sans" font-size="7.2" fill="#4a4a4a" stroke="#4a4a4a" stroke-width="0.22" text-anchor="middle">L19</text>
<text x="419.4" y="225" font-family="Liberation Sans" font-weight="bold" font-size="10.6" fill="#000" text-anchor="middle">Body, ns</text>
<line x1="15.3" y1="595.36" x2="261.6" y2="595.36" stroke="#f5f5f5" stroke-width="0.7"/>
<line x1="15.3" y1="562.68" x2="261.6" y2="562.68" stroke="#f5f5f5" stroke-width="0.7"/>
<line x1="15.3" y1="530" x2="261.6" y2="530" stroke="#f5f5f5" stroke-width="0.7"/>
<line x1="15.3" y1="497.32" x2="261.6" y2="497.32" stroke="#f5f5f5" stroke-width="0.7"/>
<line x1="15.3" y1="464.64" x2="261.6" y2="464.64" stroke="#f5f5f5" stroke-width="0.7"/>
<line x1="15.3" y1="611.7" x2="261.6" y2="611.7" stroke="#efefef" stroke-width="0.8"/>
<line x1="15.3" y1="579.02" x2="261.6" y2="579.02" stroke="#efefef" stroke-width="0.8"/>
<line x1="15.3" y1="546.34" x2="261.6" y2="546.34" stroke="#efefef" stroke-width="0.8"/>
<line x1="15.3" y1="513.66" x2="261.6" y2="513.66" stroke="#efefef" stroke-width="0.8"/>
<line x1="15.3" y1="480.98" x2="261.6" y2="480.98" stroke="#efefef" stroke-width="0.8"/>
<line x1="15.3" y1="448.3" x2="261.6" y2="448.3" stroke="#efefef" stroke-width="0.8"/>
<line x1="27.1" y1="438.5" x2="27.1" y2="619.05" stroke="#efefef" stroke-width="0.8"/>
<line x1="47.1" y1="438.5" x2="47.1" y2="619.05" stroke="#efefef" stroke-width="0.8"/>
<line x1="67.1" y1="438.5" x2="67.1" y2="619.05" stroke="#efefef" stroke-width="0.8"/>
<line x1="87.1" y1="438.5" x2="87.1" y2="619.05" stroke="#efefef" stroke-width="0.8"/>
<line x1="107.1" y1="438.5" x2="107.1" y2="619.05" stroke="#efefef" stroke-width="0.8"/>
<line x1="127.1" y1="438.5" x2="127.1" y2="619.05" stroke="#efefef" stroke-width="0.8"/>
<line x1="147.1" y1="438.5" x2="147.1" y2="619.05" stroke="#efefef" stroke-width="0.8"/>
<line x1="167.1" y1="438.5" x2="167.1" y2="619.05" stroke="#efefef" stroke-width="0.8"/>
<line x1="187.1" y1="438.5" x2="187.1" y2="619.05" stroke="#efefef" stroke-width="0.8"/>
<line x1="207.1" y1="438.5" x2="207.1" y2="619.05" stroke="#efefef" stroke-width="0.8"/>
<line x1="227.1" y1="438.5" x2="227.1" y2="619.05" stroke="#efefef" stroke-width="0.8"/>
<line x1="247.1" y1="438.5" x2="247.1" y2="619.05" stroke="#efefef" stroke-width="0.8"/>
<rect x="18.2" y="543.73" width="17.8" height="67.97" fill="#fdfdc2"/>
<rect x="38.2" y="526.73" width="17.8" height="84.97" fill="#fdfdc2"/>
<rect x="58.2" y="534.74" width="17.8" height="76.96" fill="#fdfdc2"/>
<rect x="78.2" y="541.6" width="17.8" height="70.1" fill="#fdfdc2"/>
<rect x="98.2" y="545.03" width="17.8" height="66.67" fill="#fdfdc2"/>
<rect x="118.2" y="534.74" width="17.8" height="76.96" fill="#fdfdc2"/>
<rect x="138.2" y="539.8" width="17.8" height="71.9" fill="#fdfdc2"/>
<rect x="158.2" y="546.34" width="17.8" height="65.36" fill="#fdfdc2"/>
<rect x="178.2" y="527.88" width="17.8" height="83.82" fill="#fdfdc2"/>
<rect x="198.2" y="532.94" width="17.8" height="78.76" fill="#fdfdc2"/>
<rect x="218.2" y="523.3" width="17.8" height="88.4" fill="#fdfdc2"/>
<rect x="238.2" y="529.67" width="17.8" height="82.03" fill="#fdfdc2"/>
<path d="M27.1 534.58V552.88M25 534.58H29.2M25 552.88H29.2" stroke="#2c2c2c" stroke-width="0.66" fill="none"/>
<path d="M47.1 518.07V535.39M45 518.07H49.2M45 535.39H49.2" stroke="#2c2c2c" stroke-width="0.66" fill="none"/>
<path d="M67.1 526.08V543.4M65 526.08H69.2M65 543.4H69.2" stroke="#2c2c2c" stroke-width="0.66" fill="none"/>
<path d="M87.1 533.76V549.44M85 533.76H89.2M85 549.44H89.2" stroke="#2c2c2c" stroke-width="0.66" fill="none"/>
<path d="M107.1 535.88V554.18M105 535.88H109.2M105 554.18H109.2" stroke="#2c2c2c" stroke-width="0.66" fill="none"/>
<path d="M127.1 525.92V543.56M125 525.92H129.2M125 543.56H129.2" stroke="#2c2c2c" stroke-width="0.66" fill="none"/>
<path d="M147.1 530.98V548.63M145 530.98H149.2M145 548.63H149.2" stroke="#2c2c2c" stroke-width="0.66" fill="none"/>
<path d="M167.1 538.66V554.02M165 538.66H169.2M165 554.02H169.2" stroke="#2c2c2c" stroke-width="0.66" fill="none"/>
<path d="M187.1 518.07V537.68M185 518.07H189.2M185 537.68H189.2" stroke="#2c2c2c" stroke-width="0.66" fill="none"/>
<path d="M207.1 524.12V541.76M205 524.12H209.2M205 541.76H209.2" stroke="#2c2c2c" stroke-width="0.66" fill="none"/>
<path d="M227.1 513.82V532.78M225 513.82H229.2M225 532.78H229.2" stroke="#2c2c2c" stroke-width="0.66" fill="none"/>
<path d="M247.1 521.5V537.84M245 521.5H249.2M245 537.84H249.2" stroke="#2c2c2c" stroke-width="0.66" fill="none"/>
<text x="13.4" y="614.4" font-family="Liberation Sans" font-size="7.1" fill="#4a4a4a" stroke="#4a4a4a" stroke-width="0.22" text-anchor="end">0</text>
<text x="13.4" y="581.72" font-family="Liberation Sans" font-size="7.1" fill="#4a4a4a" stroke="#4a4a4a" stroke-width="0.22" text-anchor="end">2</text>
<text x="13.4" y="549.04" font-family="Liberation Sans" font-size="7.1" fill="#4a4a4a" stroke="#4a4a4a" stroke-width="0.22" text-anchor="end">4</text>
<text x="13.4" y="516.36" font-family="Liberation Sans" font-size="7.1" fill="#4a4a4a" stroke="#4a4a4a" stroke-width="0.22" text-anchor="end">6</text>
<text x="13.4" y="483.68" font-family="Liberation Sans" font-size="7.1" fill="#4a4a4a" stroke="#4a4a4a" stroke-width="0.22" text-anchor="end">8</text>
<text x="13.4" y="451" font-family="Liberation Sans" font-size="7.1" fill="#4a4a4a" stroke="#4a4a4a" stroke-width="0.22" text-anchor="end">10</text>
<text x="27.1" y="627.3" font-family="Liberation Sans" font-size="7.2" fill="#4a4a4a" stroke="#4a4a4a" stroke-width="0.22" text-anchor="middle">L08</text>
<text x="47.1" y="627.3" font-family="Liberation Sans" font-size="7.2" fill="#4a4a4a" stroke="#4a4a4a" stroke-width="0.22" text-anchor="middle">L09</text>
<text x="67.1" y="627.3" font-family="Liberation Sans" font-size="7.2" fill="#4a4a4a" stroke="#4a4a4a" stroke-width="0.22" text-anchor="middle">L10</text>
<text x="87.1" y="627.3" font-family="Liberation Sans" font-size="7.2" fill="#4a4a4a" stroke="#4a4a4a" stroke-width="0.22" text-anchor="middle">L11</text>
<text x="107.1" y="627.3" font-family="Liberation Sans" font-size="7.2" fill="#4a4a4a" stroke="#4a4a4a" stroke-width="0.22" text-anchor="middle">L12</text>
<text x="127.1" y="627.3" font-family="Liberation Sans" font-size="7.2" fill="#4a4a4a" stroke="#4a4a4a" stroke-width="0.22" text-anchor="middle">L13</text>
<text x="147.1" y="627.3" font-family="Liberation Sans" font-size="7.2" fill="#4a4a4a" stroke="#4a4a4a" stroke-width="0.22" text-anchor="middle">L14</text>
<text x="167.1" y="627.3" font-family="Liberation Sans" font-size="7.2" fill="#4a4a4a" stroke="#4a4a4a" stroke-width="0.22" text-anchor="middle">L15</text>
<text x="187.1" y="627.3" font-family="Liberation Sans" font-size="7.2" fill="#4a4a4a" stroke="#4a4a4a" stroke-width="0.22" text-anchor="middle">L16</text>
<text x="207.1" y="627.3" font-family="Liberation Sans" font-size="7.2" fill="#4a4a4a" stroke="#4a4a4a" stroke-width="0.22" text-anchor="middle">L17</text>
<text x="227.1" y="627.3" font-family="Liberation Sans" font-size="7.2" fill="#4a4a4a" stroke="#4a4a4a" stroke-width="0.22" text-anchor="middle">L18</text>
<text x="247.1" y="627.3" font-family="Liberation Sans" font-size="7.2" fill="#4a4a4a" stroke="#4a4a4a" stroke-width="0.22" text-anchor="middle">L19</text>
<text x="137.2" y="435.8" font-family="Liberation Sans" font-weight="bold" font-size="10.6" fill="#000" text-anchor="middle">Aroma minerality, ns</text>
<line x1="297.51" y1="597.06" x2="543.46" y2="597.06" stroke="#f5f5f5" stroke-width="0.7"/>
<line x1="297.51" y1="564.38" x2="543.46" y2="564.38" stroke="#f5f5f5" stroke-width="0.7"/>
<line x1="297.51" y1="531.7" x2="543.46" y2="531.7" stroke="#f5f5f5" stroke-width="0.7"/>
<line x1="297.51" y1="499.02" x2="543.46" y2="499.02" stroke="#f5f5f5" stroke-width="0.7"/>
<line x1="297.51" y1="466.34" x2="543.46" y2="466.34" stroke="#f5f5f5" stroke-width="0.7"/>
<line x1="297.51" y1="613.4" x2="543.46" y2="613.4" stroke="#efefef" stroke-width="0.8"/>
<line x1="297.51" y1="580.72" x2="543.46" y2="580.72" stroke="#efefef" stroke-width="0.8"/>
<line x1="297.51" y1="548.04" x2="543.46" y2="548.04" stroke="#efefef" stroke-width="0.8"/>
<line x1="297.51" y1="515.36" x2="543.46" y2="515.36" stroke="#efefef" stroke-width="0.8"/>
<line x1="297.51" y1="482.68" x2="543.46" y2="482.68" stroke="#efefef" stroke-width="0.8"/>
<line x1="297.51" y1="450" x2="543.46" y2="450" stroke="#efefef" stroke-width="0.8"/>
<line x1="309.3" y1="440.2" x2="309.3" y2="620.75" stroke="#efefef" stroke-width="0.8"/>
<line x1="329.27" y1="440.2" x2="329.27" y2="620.75" stroke="#efefef" stroke-width="0.8"/>
<line x1="349.24" y1="440.2" x2="349.24" y2="620.75" stroke="#efefef" stroke-width="0.8"/>
<line x1="369.21" y1="440.2" x2="369.21" y2="620.75" stroke="#efefef" stroke-width="0.8"/>
<line x1="389.18" y1="440.2" x2="389.18" y2="620.75" stroke="#efefef" stroke-width="0.8"/>
<line x1="409.15" y1="440.2" x2="409.15" y2="620.75" stroke="#efefef" stroke-width="0.8"/>
<line x1="429.12" y1="440.2" x2="429.12" y2="620.75" stroke="#efefef" stroke-width="0.8"/>
<line x1="449.09" y1="440.2" x2="449.09" y2="620.75" stroke="#efefef" stroke-width="0.8"/>
<line x1="469.06" y1="440.2" x2="469.06" y2="620.75" stroke="#efefef" stroke-width="0.8"/>
<line x1="489.03" y1="440.2" x2="489.03" y2="620.75" stroke="#efefef" stroke-width="0.8"/>
<line x1="509" y1="440.2" x2="509" y2="620.75" stroke="#efefef" stroke-width="0.8"/>
<line x1="528.97" y1="440.2" x2="528.97" y2="620.75" stroke="#efefef" stroke-width="0.8"/>
<rect x="300.45" y="487.91" width="17.7" height="125.49" fill="#f06b3e"/>
<rect x="320.42" y="507.35" width="17.7" height="106.05" fill="#f06b3e"/>
<rect x="340.39" y="509.15" width="17.7" height="104.25" fill="#f06b3e"/>
<rect x="360.36" y="507.35" width="17.7" height="106.05" fill="#f06b3e"/>
<rect x="380.33" y="500.98" width="17.7" height="112.42" fill="#f06b3e"/>
<rect x="400.3" y="519.28" width="17.7" height="94.12" fill="#f06b3e"/>
<rect x="420.27" y="516.01" width="17.7" height="97.39" fill="#f06b3e"/>
<rect x="440.24" y="526.96" width="17.7" height="86.44" fill="#f06b3e"/>
<rect x="460.21" y="530.72" width="17.7" height="82.68" fill="#f06b3e"/>
<rect x="480.18" y="546.73" width="17.7" height="66.67" fill="#f06b3e"/>
<rect x="500.15" y="554.9" width="17.7" height="58.5" fill="#f06b3e"/>
<rect x="520.12" y="563.07" width="17.7" height="50.33" fill="#f06b3e"/>
<path d="M309.3 480.23V495.59M307.2 480.23H311.4M307.2 495.59H311.4" stroke="#2c2c2c" stroke-width="0.66" fill="none"/>
<path d="M329.27 498.37V516.34M327.17 498.37H331.37M327.17 516.34H331.37" stroke="#2c2c2c" stroke-width="0.66" fill="none"/>
<path d="M349.24 500.65V517.65M347.14 500.65H351.34M347.14 517.65H351.34" stroke="#2c2c2c" stroke-width="0.66" fill="none"/>
<path d="M369.21 499.67V515.03M367.11 499.67H371.31M367.11 515.03H371.31" stroke="#2c2c2c" stroke-width="0.66" fill="none"/>
<path d="M389.18 492.65V509.31M387.08 492.65H391.28M387.08 509.31H391.28" stroke="#2c2c2c" stroke-width="0.66" fill="none"/>
<path d="M409.15 511.44V527.12M407.05 511.44H411.25M407.05 527.12H411.25" stroke="#2c2c2c" stroke-width="0.66" fill="none"/>
<path d="M429.12 507.35V524.67M427.02 507.35H431.22M427.02 524.67H431.22" stroke="#2c2c2c" stroke-width="0.66" fill="none"/>
<path d="M449.09 519.28V534.64M446.99 519.28H451.19M446.99 534.64H451.19" stroke="#2c2c2c" stroke-width="0.66" fill="none"/>
<path d="M469.06 522.88V538.56M466.96 522.88H471.16M466.96 538.56H471.16" stroke="#2c2c2c" stroke-width="0.66" fill="none"/>
<path d="M489.03 538.73V554.74M486.93 538.73H491.13M486.93 554.74H491.13" stroke="#2c2c2c" stroke-width="0.66" fill="none"/>
<path d="M509 548.53V561.28M506.9 548.53H511.1M506.9 561.28H511.1" stroke="#2c2c2c" stroke-width="0.66" fill="none"/>
<path d="M528.97 555.88V570.26M526.87 555.88H531.07M526.87 570.26H531.07" stroke="#2c2c2c" stroke-width="0.66" fill="none"/>
<text x="309.3" y="579.71" font-family="Liberation Sans" font-weight="bold" font-size="9.5" fill="#5e0a16" stroke="#5e0a16" stroke-width="0.2" text-anchor="middle">a</text>
<text x="329.27" y="585.35" font-family="Liberation Sans" font-weight="bold" font-size="9.5" fill="#5e0a16" stroke="#5e0a16" stroke-width="0.2" text-anchor="middle">abc</text>
<text x="349.24" y="585.87" font-family="Liberation Sans" font-weight="bold" font-size="9.5" fill="#5e0a16" stroke="#5e0a16" stroke-width="0.2" text-anchor="middle">abc</text>
<text x="369.21" y="585.35" font-family="Liberation Sans" font-weight="bold" font-size="9.5" fill="#5e0a16" stroke="#5e0a16" stroke-width="0.2" text-anchor="middle">abc</text>
<text x="389.18" y="583.5" font-family="Liberation Sans" font-weight="bold" font-size="9.5" fill="#5e0a16" stroke="#5e0a16" stroke-width="0.2" text-anchor="middle">abc</text>
<text x="409.15" y="588.81" font-family="Liberation Sans" font-weight="bold" font-size="9.5" fill="#5e0a16" stroke="#5e0a16" stroke-width="0.2" text-anchor="middle">bc</text>
<text x="429.12" y="587.86" font-family="Liberation Sans" font-weight="bold" font-size="9.5" fill="#5e0a16" stroke="#5e0a16" stroke-width="0.2" text-anchor="middle">bc</text>
<text x="449.09" y="591.03" font-family="Liberation Sans" font-weight="bold" font-size="9.5" fill="#5e0a16" stroke="#5e0a16" stroke-width="0.2" text-anchor="middle">cd</text>
<text x="469.06" y="592.12" font-family="Liberation Sans" font-weight="bold" font-size="9.5" fill="#5e0a16" stroke="#5e0a16" stroke-width="0.2" text-anchor="middle">cd</text>
<text x="489.03" y="596.77" font-family="Liberation Sans" font-weight="bold" font-size="9.5" fill="#5e0a16" stroke="#5e0a16" stroke-width="0.2" text-anchor="middle">de</text>
<text x="509" y="599.84" font-family="Liberation Sans" font-weight="bold" font-size="9.5" fill="#5e0a16" stroke="#5e0a16" stroke-width="0.2" text-anchor="middle">e</text>
<text x="528.97" y="602.21" font-family="Liberation Sans" font-weight="bold" font-size="9.5" fill="#5e0a16" stroke="#5e0a16" stroke-width="0.2" text-anchor="middle">e</text>
<text x="295.5" y="616.1" font-family="Liberation Sans" font-size="7.1" fill="#4a4a4a" stroke="#4a4a4a" stroke-width="0.22" text-anchor="end">0</text>
<text x="295.5" y="583.42" font-family="Liberation Sans" font-size="7.1" fill="#4a4a4a" stroke="#4a4a4a" stroke-width="0.22" text-anchor="end">2</text>
<text x="295.5" y="550.74" font-family="Liberation Sans" font-size="7.1" fill="#4a4a4a" stroke="#4a4a4a" stroke-width="0.22" text-anchor="end">4</text>
<text x="295.5" y="518.06" font-family="Liberation Sans" font-size="7.1" fill="#4a4a4a" stroke="#4a4a4a" stroke-width="0.22" text-anchor="end">6</text>
<text x="295.5" y="485.38" font-family="Liberation Sans" font-size="7.1" fill="#4a4a4a" stroke="#4a4a4a" stroke-width="0.22" text-anchor="end">8</text>
<text x="295.5" y="452.7" font-family="Liberation Sans" font-size="7.1" fill="#4a4a4a" stroke="#4a4a4a" stroke-width="0.22" text-anchor="end">10</text>
<text x="309.3" y="629.6" font-family="Liberation Sans" font-size="7.2" fill="#4a4a4a" stroke="#4a4a4a" stroke-width="0.22" text-anchor="middle">L08</text>
<text x="329.27" y="629.6" font-family="Liberation Sans" font-size="7.2" fill="#4a4a4a" stroke="#4a4a4a" stroke-width="0.22" text-anchor="middle">L09</text>
<text x="349.24" y="629.6" font-family="Liberation Sans" font-size="7.2" fill="#4a4a4a" stroke="#4a4a4a" stroke-width="0.22" text-anchor="middle">L10</text>
<text x="369.21" y="629.6" font-family="Liberation Sans" font-size="7.2" fill="#4a4a4a" stroke="#4a4a4a" stroke-width="0.22" text-anchor="middle">L11</text>
<text x="389.18" y="629.6" font-family="Liberation Sans" font-size="7.2" fill="#4a4a4a" stroke="#4a4a4a" stroke-width="0.22" text-anchor="middle">L12</text>
<text x="409.15" y="629.6" font-family="Liberation Sans" font-size="7.2" fill="#4a4a4a" stroke="#4a4a4a" stroke-width="0.22" text-anchor="middle">L13</text>
<text x="429.12" y="629.6" font-family="Liberation Sans" font-size="7.2" fill="#4a4a4a" stroke="#4a4a4a" stroke-width="0.22" text-anchor="middle">L14</text>
<text x="449.09" y="629.6" font-family="Liberation Sans" font-size="7.2" fill="#4a4a4a" stroke="#4a4a4a" stroke-width="0.22" text-anchor="middle">L15</text>
<text x="469.06" y="629.6" font-family="Liberation Sans" font-size="7.2" fill="#4a4a4a" stroke="#4a4a4a" stroke-width="0.22" text-anchor="middle">L16</text>
<text x="489.03" y="629.6" font-family="Liberation Sans" font-size="7.2" fill="#4a4a4a" stroke="#4a4a4a" stroke-width="0.22" text-anchor="middle">L17</text>
<text x="509" y="629.6" font-family="Liberation Sans" font-size="7.2" fill="#4a4a4a" stroke="#4a4a4a" stroke-width="0.22" text-anchor="middle">L18</text>
<text x="528.97" y="629.6" font-family="Liberation Sans" font-size="7.2" fill="#4a4a4a" stroke="#4a4a4a" stroke-width="0.22" text-anchor="middle">L19</text>
<text x="420.6" y="437.6" font-family="Liberation Sans" font-weight="bold" font-size="10.6" fill="#000" text-anchor="middle">Colour intensity, ***</text>
<line x1="15.59" y1="803.27" x2="264.53" y2="803.27" stroke="#f5f5f5" stroke-width="0.7"/>
<line x1="15.59" y1="770.61" x2="264.53" y2="770.61" stroke="#f5f5f5" stroke-width="0.7"/>
<line x1="15.59" y1="737.95" x2="264.53" y2="737.95" stroke="#f5f5f5" stroke-width="0.7"/>
<line x1="15.59" y1="705.29" x2="264.53" y2="705.29" stroke="#f5f5f5" stroke-width="0.7"/>
<line x1="15.59" y1="672.63" x2="264.53" y2="672.63" stroke="#f5f5f5" stroke-width="0.7"/>
<line x1="15.59" y1="819.6" x2="264.53" y2="819.6" stroke="#efefef" stroke-width="0.8"/>
<line x1="15.59" y1="786.94" x2="264.53" y2="786.94" stroke="#efefef" stroke-width="0.8"/>
<line x1="15.59" y1="754.28" x2="264.53" y2="754.28" stroke="#efefef" stroke-width="0.8"/>
<line x1="15.59" y1="721.62" x2="264.53" y2="721.62" stroke="#efefef" stroke-width="0.8"/>
<line x1="15.59" y1="688.96" x2="264.53" y2="688.96" stroke="#efefef" stroke-width="0.8"/>
<line x1="15.59" y1="656.3" x2="264.53" y2="656.3" stroke="#efefef" stroke-width="0.8"/>
<line x1="27.5" y1="646.5" x2="27.5" y2="826.95" stroke="#efefef" stroke-width="0.8"/>
<line x1="47.72" y1="646.5" x2="47.72" y2="826.95" stroke="#efefef" stroke-width="0.8"/>
<line x1="67.94" y1="646.5" x2="67.94" y2="826.95" stroke="#efefef" stroke-width="0.8"/>
<line x1="88.16" y1="646.5" x2="88.16" y2="826.95" stroke="#efefef" stroke-width="0.8"/>
<line x1="108.38" y1="646.5" x2="108.38" y2="826.95" stroke="#efefef" stroke-width="0.8"/>
<line x1="128.6" y1="646.5" x2="128.6" y2="826.95" stroke="#efefef" stroke-width="0.8"/>
<line x1="148.82" y1="646.5" x2="148.82" y2="826.95" stroke="#efefef" stroke-width="0.8"/>
<line x1="169.04" y1="646.5" x2="169.04" y2="826.95" stroke="#efefef" stroke-width="0.8"/>
<line x1="189.26" y1="646.5" x2="189.26" y2="826.95" stroke="#efefef" stroke-width="0.8"/>
<line x1="209.48" y1="646.5" x2="209.48" y2="826.95" stroke="#efefef" stroke-width="0.8"/>
<line x1="229.7" y1="646.5" x2="229.7" y2="826.95" stroke="#efefef" stroke-width="0.8"/>
<line x1="249.92" y1="646.5" x2="249.92" y2="826.95" stroke="#efefef" stroke-width="0.8"/>
<rect x="18.45" y="680.8" width="18.1" height="138.8" fill="#f8a65e"/>
<rect x="38.67" y="705.78" width="18.1" height="113.82" fill="#f8a65e"/>
<rect x="58.89" y="705.78" width="18.1" height="113.82" fill="#f8a65e"/>
<rect x="79.11" y="709.05" width="18.1" height="110.55" fill="#f8a65e"/>
<rect x="99.33" y="699.41" width="18.1" height="120.19" fill="#f8a65e"/>
<rect x="119.55" y="717.21" width="18.1" height="102.39" fill="#f8a65e"/>
<rect x="139.77" y="712.48" width="18.1" height="107.12" fill="#f8a65e"/>
<rect x="159.99" y="738.28" width="18.1" height="81.32" fill="#f8a65e"/>
<rect x="180.21" y="736.64" width="18.1" height="82.96" fill="#f8a65e"/>
<rect x="200.43" y="746.77" width="18.1" height="72.83" fill="#f8a65e"/>
<rect x="220.65" y="772.73" width="18.1" height="46.87" fill="#f8a65e"/>
<rect x="240.87" y="777.8" width="18.1" height="41.8" fill="#f8a65e"/>
<path d="M27.5 677.2V684.39M25.4 677.2H29.6M25.4 684.39H29.6" stroke="#2c2c2c" stroke-width="0.66" fill="none"/>
<path d="M47.72 698.76V712.8M45.62 698.76H49.82M45.62 712.8H49.82" stroke="#2c2c2c" stroke-width="0.66" fill="none"/>
<path d="M67.94 699.25V712.31M65.84 699.25H70.04M65.84 712.31H70.04" stroke="#2c2c2c" stroke-width="0.66" fill="none"/>
<path d="M88.16 701.86V716.23M86.06 701.86H90.26M86.06 716.23H90.26" stroke="#2c2c2c" stroke-width="0.66" fill="none"/>
<path d="M108.38 691.74V707.09M106.28 691.74H110.48M106.28 707.09H110.48" stroke="#2c2c2c" stroke-width="0.66" fill="none"/>
<path d="M128.6 709.86V724.56M126.5 709.86H130.7M126.5 724.56H130.7" stroke="#2c2c2c" stroke-width="0.66" fill="none"/>
<path d="M148.82 704.96V719.99M146.72 704.96H150.92M146.72 719.99H150.92" stroke="#2c2c2c" stroke-width="0.66" fill="none"/>
<path d="M169.04 732.23V744.32M166.94 732.23H171.14M166.94 744.32H171.14" stroke="#2c2c2c" stroke-width="0.66" fill="none"/>
<path d="M189.26 728.48V744.81M187.16 728.48H191.36M187.16 744.81H191.36" stroke="#2c2c2c" stroke-width="0.66" fill="none"/>
<path d="M209.48 739.58V753.95M207.38 739.58H211.58M207.38 753.95H211.58" stroke="#2c2c2c" stroke-width="0.66" fill="none"/>
<path d="M229.7 765.87V779.59M227.6 765.87H231.8M227.6 779.59H231.8" stroke="#2c2c2c" stroke-width="0.66" fill="none"/>
<path d="M249.92 772.41V783.18M247.82 772.41H252.02M247.82 783.18H252.02" stroke="#2c2c2c" stroke-width="0.66" fill="none"/>
<text x="27.5" y="782.05" font-family="Liberation Sans" font-weight="bold" font-size="9.5" fill="#5e0a16" stroke="#5e0a16" stroke-width="0.2" text-anchor="middle">a</text>
<text x="47.72" y="789.29" font-family="Liberation Sans" font-weight="bold" font-size="9.5" fill="#5e0a16" stroke="#5e0a16" stroke-width="0.2" text-anchor="middle">b</text>
<text x="67.94" y="789.29" font-family="Liberation Sans" font-weight="bold" font-size="9.5" fill="#5e0a16" stroke="#5e0a16" stroke-width="0.2" text-anchor="middle">b</text>
<text x="88.16" y="790.24" font-family="Liberation Sans" font-weight="bold" font-size="9.5" fill="#5e0a16" stroke="#5e0a16" stroke-width="0.2" text-anchor="middle">b</text>
<text x="108.38" y="787.45" font-family="Liberation Sans" font-weight="bold" font-size="9.5" fill="#5e0a16" stroke="#5e0a16" stroke-width="0.2" text-anchor="middle">ab</text>
<text x="128.6" y="792.61" font-family="Liberation Sans" font-weight="bold" font-size="9.5" fill="#5e0a16" stroke="#5e0a16" stroke-width="0.2" text-anchor="middle">bc</text>
<text x="148.82" y="791.23" font-family="Liberation Sans" font-weight="bold" font-size="9.5" fill="#5e0a16" stroke="#5e0a16" stroke-width="0.2" text-anchor="middle">bc</text>
<text x="169.04" y="798.72" font-family="Liberation Sans" font-weight="bold" font-size="9.5" fill="#5e0a16" stroke="#5e0a16" stroke-width="0.2" text-anchor="middle">b</text>
<text x="189.26" y="798.24" font-family="Liberation Sans" font-weight="bold" font-size="9.5" fill="#5e0a16" stroke="#5e0a16" stroke-width="0.2" text-anchor="middle">cd</text>
<text x="209.48" y="801.18" font-family="Liberation Sans" font-weight="bold" font-size="9.5" fill="#5e0a16" stroke="#5e0a16" stroke-width="0.2" text-anchor="middle">cd</text>
<text x="229.7" y="809.41" font-family="Liberation Sans" font-weight="bold" font-size="9.5" fill="#5e0a16" stroke="#5e0a16" stroke-width="0.2" text-anchor="middle">e</text>
<text x="249.92" y="810.88" font-family="Liberation Sans" font-weight="bold" font-size="9.5" fill="#5e0a16" stroke="#5e0a16" stroke-width="0.2" text-anchor="middle">e</text>
<text x="13.6" y="822.3" font-family="Liberation Sans" font-size="7.1" fill="#4a4a4a" stroke="#4a4a4a" stroke-width="0.22" text-anchor="end">0</text>
<text x="13.6" y="789.64" font-family="Liberation Sans" font-size="7.1" fill="#4a4a4a" stroke="#4a4a4a" stroke-width="0.22" text-anchor="end">2</text>
<text x="13.6" y="756.98" font-family="Liberation Sans" font-size="7.1" fill="#4a4a4a" stroke="#4a4a4a" stroke-width="0.22" text-anchor="end">4</text>
<text x="13.6" y="724.32" font-family="Liberation Sans" font-size="7.1" fill="#4a4a4a" stroke="#4a4a4a" stroke-width="0.22" text-anchor="end">6</text>
<text x="13.6" y="691.66" font-family="Liberation Sans" font-size="7.1" fill="#4a4a4a" stroke="#4a4a4a" stroke-width="0.22" text-anchor="end">8</text>
<text x="13.6" y="659" font-family="Liberation Sans" font-size="7.1" fill="#4a4a4a" stroke="#4a4a4a" stroke-width="0.22" text-anchor="end">10</text>
<text x="27.5" y="834.7" font-family="Liberation Sans" font-size="7.2" fill="#4a4a4a" stroke="#4a4a4a" stroke-width="0.22" text-anchor="middle">L08</text>
<text x="47.72" y="834.7" font-family="Liberation Sans" font-size="7.2" fill="#4a4a4a" stroke="#4a4a4a" stroke-width="0.22" text-anchor="middle">L09</text>
<text x="67.94" y="834.7" font-family="Liberation Sans" font-size="7.2" fill="#4a4a4a" stroke="#4a4a4a" stroke-width="0.22" text-anchor="middle">L10</text>
<text x="88.16" y="834.7" font-family="Liberation Sans" font-size="7.2" fill="#4a4a4a" stroke="#4a4a4a" stroke-width="0.22" text-anchor="middle">L11</text>
<text x="108.38" y="834.7" font-family="Liberation Sans" font-size="7.2" fill="#4a4a4a" stroke="#4a4a4a" stroke-width="0.22" text-anchor="middle">L12</text>
<text x="128.6" y="834.7" font-family="Liberation Sans" font-size="7.2" fill="#4a4a4a" stroke="#4a4a4a" stroke-width="0.22" text-anchor="middle">L13</text>
<text x="148.82" y="834.7" font-family="Liberation Sans" font-size="7.2" fill="#4a4a4a" stroke="#4a4a4a" stroke-width="0.22" text-anchor="middle">L14</text>
<text x="169.04" y="834.7" font-family="Liberation Sans" font-size="7.2" fill="#4a4a4a" stroke="#4a4a4a" stroke-width="0.22" text-anchor="middle">L15</text>
<text x="189.26" y="834.7" font-family="Liberation Sans" font-size="7.2" fill="#4a4a4a" stroke="#4a4a4a" stroke-width="0.22" text-anchor="middle">L16</text>
<text x="209.48" y="834.7" font-family="Liberation Sans" font-size="7.2" fill="#4a4a4a" stroke="#4a4a4a" stroke-width="0.22" text-anchor="middle">L17</text>
<text x="229.7" y="834.7" font-family="Liberation Sans" font-size="7.2" fill="#4a4a4a" stroke="#4a4a4a" stroke-width="0.22" text-anchor="middle">L18</text>
<text x="249.92" y="834.7" font-family="Liberation Sans" font-size="7.2" fill="#4a4a4a" stroke="#4a4a4a" stroke-width="0.22" text-anchor="middle">L19</text>
<text x="138.9" y="643.7" font-family="Liberation Sans" font-weight="bold" font-size="10.6" fill="#000" text-anchor="middle">Hue ***</text>
<line x1="297.89" y1="804.67" x2="546.72" y2="804.67" stroke="#f5f5f5" stroke-width="0.7"/>
<line x1="297.89" y1="772.01" x2="546.72" y2="772.01" stroke="#f5f5f5" stroke-width="0.7"/>
<line x1="297.89" y1="739.35" x2="546.72" y2="739.35" stroke="#f5f5f5" stroke-width="0.7"/>
<line x1="297.89" y1="706.69" x2="546.72" y2="706.69" stroke="#f5f5f5" stroke-width="0.7"/>
<line x1="297.89" y1="674.03" x2="546.72" y2="674.03" stroke="#f5f5f5" stroke-width="0.7"/>
<line x1="297.89" y1="821" x2="546.72" y2="821" stroke="#efefef" stroke-width="0.8"/>
<line x1="297.89" y1="788.34" x2="546.72" y2="788.34" stroke="#efefef" stroke-width="0.8"/>
<line x1="297.89" y1="755.68" x2="546.72" y2="755.68" stroke="#efefef" stroke-width="0.8"/>
<line x1="297.89" y1="723.02" x2="546.72" y2="723.02" stroke="#efefef" stroke-width="0.8"/>
<line x1="297.89" y1="690.36" x2="546.72" y2="690.36" stroke="#efefef" stroke-width="0.8"/>
<line x1="297.89" y1="657.7" x2="546.72" y2="657.7" stroke="#efefef" stroke-width="0.8"/>
<line x1="309.8" y1="647.9" x2="309.8" y2="828.35" stroke="#efefef" stroke-width="0.8"/>
<line x1="330.01" y1="647.9" x2="330.01" y2="828.35" stroke="#efefef" stroke-width="0.8"/>
<line x1="350.22" y1="647.9" x2="350.22" y2="828.35" stroke="#efefef" stroke-width="0.8"/>
<line x1="370.43" y1="647.9" x2="370.43" y2="828.35" stroke="#efefef" stroke-width="0.8"/>
<line x1="390.64" y1="647.9" x2="390.64" y2="828.35" stroke="#efefef" stroke-width="0.8"/>
<line x1="410.85" y1="647.9" x2="410.85" y2="828.35" stroke="#efefef" stroke-width="0.8"/>
<line x1="431.06" y1="647.9" x2="431.06" y2="828.35" stroke="#efefef" stroke-width="0.8"/>
<line x1="451.27" y1="647.9" x2="451.27" y2="828.35" stroke="#efefef" stroke-width="0.8"/>
<line x1="471.48" y1="647.9" x2="471.48" y2="828.35" stroke="#efefef" stroke-width="0.8"/>
<line x1="491.69" y1="647.9" x2="491.69" y2="828.35" stroke="#efefef" stroke-width="0.8"/>
<line x1="511.9" y1="647.9" x2="511.9" y2="828.35" stroke="#efefef" stroke-width="0.8"/>
<line x1="532.11" y1="647.9" x2="532.11" y2="828.35" stroke="#efefef" stroke-width="0.8"/>
<rect x="300.7" y="758.13" width="18.2" height="62.87" fill="#d93a2a"/>
<rect x="320.91" y="736.57" width="18.2" height="84.43" fill="#d93a2a"/>
<rect x="341.12" y="740.17" width="18.2" height="80.83" fill="#d93a2a"/>
<rect x="361.33" y="743.43" width="18.2" height="77.57" fill="#d93a2a"/>
<rect x="381.54" y="743.43" width="18.2" height="77.57" fill="#d93a2a"/>
<rect x="401.75" y="736.57" width="18.2" height="84.43" fill="#d93a2a"/>
<rect x="421.96" y="743.43" width="18.2" height="77.57" fill="#d93a2a"/>
<rect x="442.17" y="741.64" width="18.2" height="79.36" fill="#d93a2a"/>
<rect x="462.38" y="730.04" width="18.2" height="90.96" fill="#d93a2a"/>
<rect x="482.59" y="715.34" width="18.2" height="105.66" fill="#d93a2a"/>
<rect x="502.8" y="723.67" width="18.2" height="97.33" fill="#d93a2a"/>
<rect x="523.01" y="725.63" width="18.2" height="95.37" fill="#d93a2a"/>
<path d="M309.8 752.09V764.17M307.7 752.09H311.9M307.7 764.17H311.9" stroke="#2c2c2c" stroke-width="0.66" fill="none"/>
<path d="M330.01 727.1V746.05M327.91 727.1H332.11M327.91 746.05H332.11" stroke="#2c2c2c" stroke-width="0.66" fill="none"/>
<path d="M350.22 732.33V748M348.12 732.33H352.32M348.12 748H352.32" stroke="#2c2c2c" stroke-width="0.66" fill="none"/>
<path d="M370.43 735.1V751.76M368.33 735.1H372.53M368.33 751.76H372.53" stroke="#2c2c2c" stroke-width="0.66" fill="none"/>
<path d="M390.64 736.74V750.13M388.54 736.74H392.74M388.54 750.13H392.74" stroke="#2c2c2c" stroke-width="0.66" fill="none"/>
<path d="M410.85 725.63V747.51M408.75 725.63H412.95M408.75 747.51H412.95" stroke="#2c2c2c" stroke-width="0.66" fill="none"/>
<path d="M431.06 735.76V751.11M428.96 735.76H433.16M428.96 751.11H433.16" stroke="#2c2c2c" stroke-width="0.66" fill="none"/>
<path d="M451.27 733.31V749.96M449.17 733.31H453.37M449.17 749.96H453.37" stroke="#2c2c2c" stroke-width="0.66" fill="none"/>
<path d="M471.48 721.55V738.53M469.38 721.55H473.58M469.38 738.53H473.58" stroke="#2c2c2c" stroke-width="0.66" fill="none"/>
<path d="M491.69 708V722.69M489.59 708H493.79M489.59 722.69H493.79" stroke="#2c2c2c" stroke-width="0.66" fill="none"/>
<path d="M511.9 716.32V731.02M509.8 716.32H514M509.8 731.02H514" stroke="#2c2c2c" stroke-width="0.66" fill="none"/>
<path d="M532.11 716.16V735.1M530.01 716.16H534.21M530.01 735.1H534.21" stroke="#2c2c2c" stroke-width="0.66" fill="none"/>
<text x="309.8" y="805.72" font-family="Liberation Sans" font-weight="bold" font-size="9.5" fill="#5e0a16" stroke="#5e0a16" stroke-width="0.2" text-anchor="middle">b</text>
<text x="330.01" y="799.55" font-family="Liberation Sans" font-weight="bold" font-size="9.5" fill="#5e0a16" stroke="#5e0a16" stroke-width="0.2" text-anchor="middle">ab</text>
<text x="350.22" y="800.58" font-family="Liberation Sans" font-weight="bold" font-size="9.5" fill="#5e0a16" stroke="#5e0a16" stroke-width="0.2" text-anchor="middle">ab</text>
<text x="370.43" y="801.52" font-family="Liberation Sans" font-weight="bold" font-size="9.5" fill="#5e0a16" stroke="#5e0a16" stroke-width="0.2" text-anchor="middle">ab</text>
<text x="390.64" y="801.52" font-family="Liberation Sans" font-weight="bold" font-size="9.5" fill="#5e0a16" stroke="#5e0a16" stroke-width="0.2" text-anchor="middle">ab</text>
<text x="410.85" y="799.55" font-family="Liberation Sans" font-weight="bold" font-size="9.5" fill="#5e0a16" stroke="#5e0a16" stroke-width="0.2" text-anchor="middle">ab</text>
<text x="431.06" y="801.52" font-family="Liberation Sans" font-weight="bold" font-size="9.5" fill="#5e0a16" stroke="#5e0a16" stroke-width="0.2" text-anchor="middle">ab</text>
<text x="451.27" y="801" font-family="Liberation Sans" font-weight="bold" font-size="9.5" fill="#5e0a16" stroke="#5e0a16" stroke-width="0.2" text-anchor="middle">ab</text>
<text x="471.48" y="797.69" font-family="Liberation Sans" font-weight="bold" font-size="9.5" fill="#5e0a16" stroke="#5e0a16" stroke-width="0.2" text-anchor="middle">ab</text>
<text x="491.69" y="793.48" font-family="Liberation Sans" font-weight="bold" font-size="9.5" fill="#5e0a16" stroke="#5e0a16" stroke-width="0.2" text-anchor="middle">a</text>
<text x="511.9" y="795.86" font-family="Liberation Sans" font-weight="bold" font-size="9.5" fill="#5e0a16" stroke="#5e0a16" stroke-width="0.2" text-anchor="middle">a</text>
<text x="532.11" y="796.42" font-family="Liberation Sans" font-weight="bold" font-size="9.5" fill="#5e0a16" stroke="#5e0a16" stroke-width="0.2" text-anchor="middle">a</text>
<text x="295.5" y="823.7" font-family="Liberation Sans" font-size="7.1" fill="#4a4a4a" stroke="#4a4a4a" stroke-width="0.22" text-anchor="end">0</text>
<text x="295.5" y="791.04" font-family="Liberation Sans" font-size="7.1" fill="#4a4a4a" stroke="#4a4a4a" stroke-width="0.22" text-anchor="end">2</text>
<text x="295.5" y="758.38" font-family="Liberation Sans" font-size="7.1" fill="#4a4a4a" stroke="#4a4a4a" stroke-width="0.22" text-anchor="end">4</text>
<text x="295.5" y="725.72" font-family="Liberation Sans" font-size="7.1" fill="#4a4a4a" stroke="#4a4a4a" stroke-width="0.22" text-anchor="end">6</text>
<text x="295.5" y="693.06" font-family="Liberation Sans" font-size="7.1" fill="#4a4a4a" stroke="#4a4a4a" stroke-width="0.22" text-anchor="end">8</text>
<text x="295.5" y="660.4" font-family="Liberation Sans" font-size="7.1" fill="#4a4a4a" stroke="#4a4a4a" stroke-width="0.22" text-anchor="end">10</text>
<text x="309.8" y="836.2" font-family="Liberation Sans" font-size="7.2" fill="#4a4a4a" stroke="#4a4a4a" stroke-width="0.22" text-anchor="middle">L08</text>
<text x="330.01" y="836.2" font-family="Liberation Sans" font-size="7.2" fill="#4a4a4a" stroke="#4a4a4a" stroke-width="0.22" text-anchor="middle">L09</text>
<text x="350.22" y="836.2" font-family="Liberation Sans" font-size="7.2" fill="#4a4a4a" stroke="#4a4a4a" stroke-width="0.22" text-anchor="middle">L10</text>
<text x="370.43" y="836.2" font-family="Liberation Sans" font-size="7.2" fill="#4a4a4a" stroke="#4a4a4a" stroke-width="0.22" text-anchor="middle">L11</text>
<text x="390.64" y="836.2" font-family="Liberation Sans" font-size="7.2" fill="#4a4a4a" stroke="#4a4a4a" stroke-width="0.22" text-anchor="middle">L12</text>
<text x="410.85" y="836.2" font-family="Liberation Sans" font-size="7.2" fill="#4a4a4a" stroke="#4a4a4a" stroke-width="0.22" text-anchor="middle">L13</text>
<text x="431.06" y="836.2" font-family="Liberation Sans" font-size="7.2" fill="#4a4a4a" stroke="#4a4a4a" stroke-width="0.22" text-anchor="middle">L14</text>
<text x="451.27" y="836.2" font-family="Liberation Sans" font-size="7.2" fill="#4a4a4a" stroke="#4a4a4a" stroke-width="0.22" text-anchor="middle">L15</text>
<text x="471.48" y="836.2" font-family="Liberation Sans" font-size="7.2" fill="#4a4a4a" stroke="#4a4a4a" stroke-width="0.22" text-anchor="middle">L16</text>
<text x="491.69" y="836.2" font-family="Liberation Sans" font-size="7.2" fill="#4a4a4a" stroke="#4a4a4a" stroke-width="0.22" text-anchor="middle">L17</text>
<text x="511.9" y="836.2" font-family="Liberation Sans" font-size="7.2" fill="#4a4a4a" stroke="#4a4a4a" stroke-width="0.22" text-anchor="middle">L18</text>
<text x="532.11" y="836.2" font-family="Liberation Sans" font-size="7.2" fill="#4a4a4a" stroke="#4a4a4a" stroke-width="0.22" text-anchor="middle">L19</text>
<text x="420.5" y="645.7" font-family="Liberation Sans" font-weight="bold" font-size="10.6" fill="#000" text-anchor="middle">Overall quality **</text>
</svg>
</body></html>
